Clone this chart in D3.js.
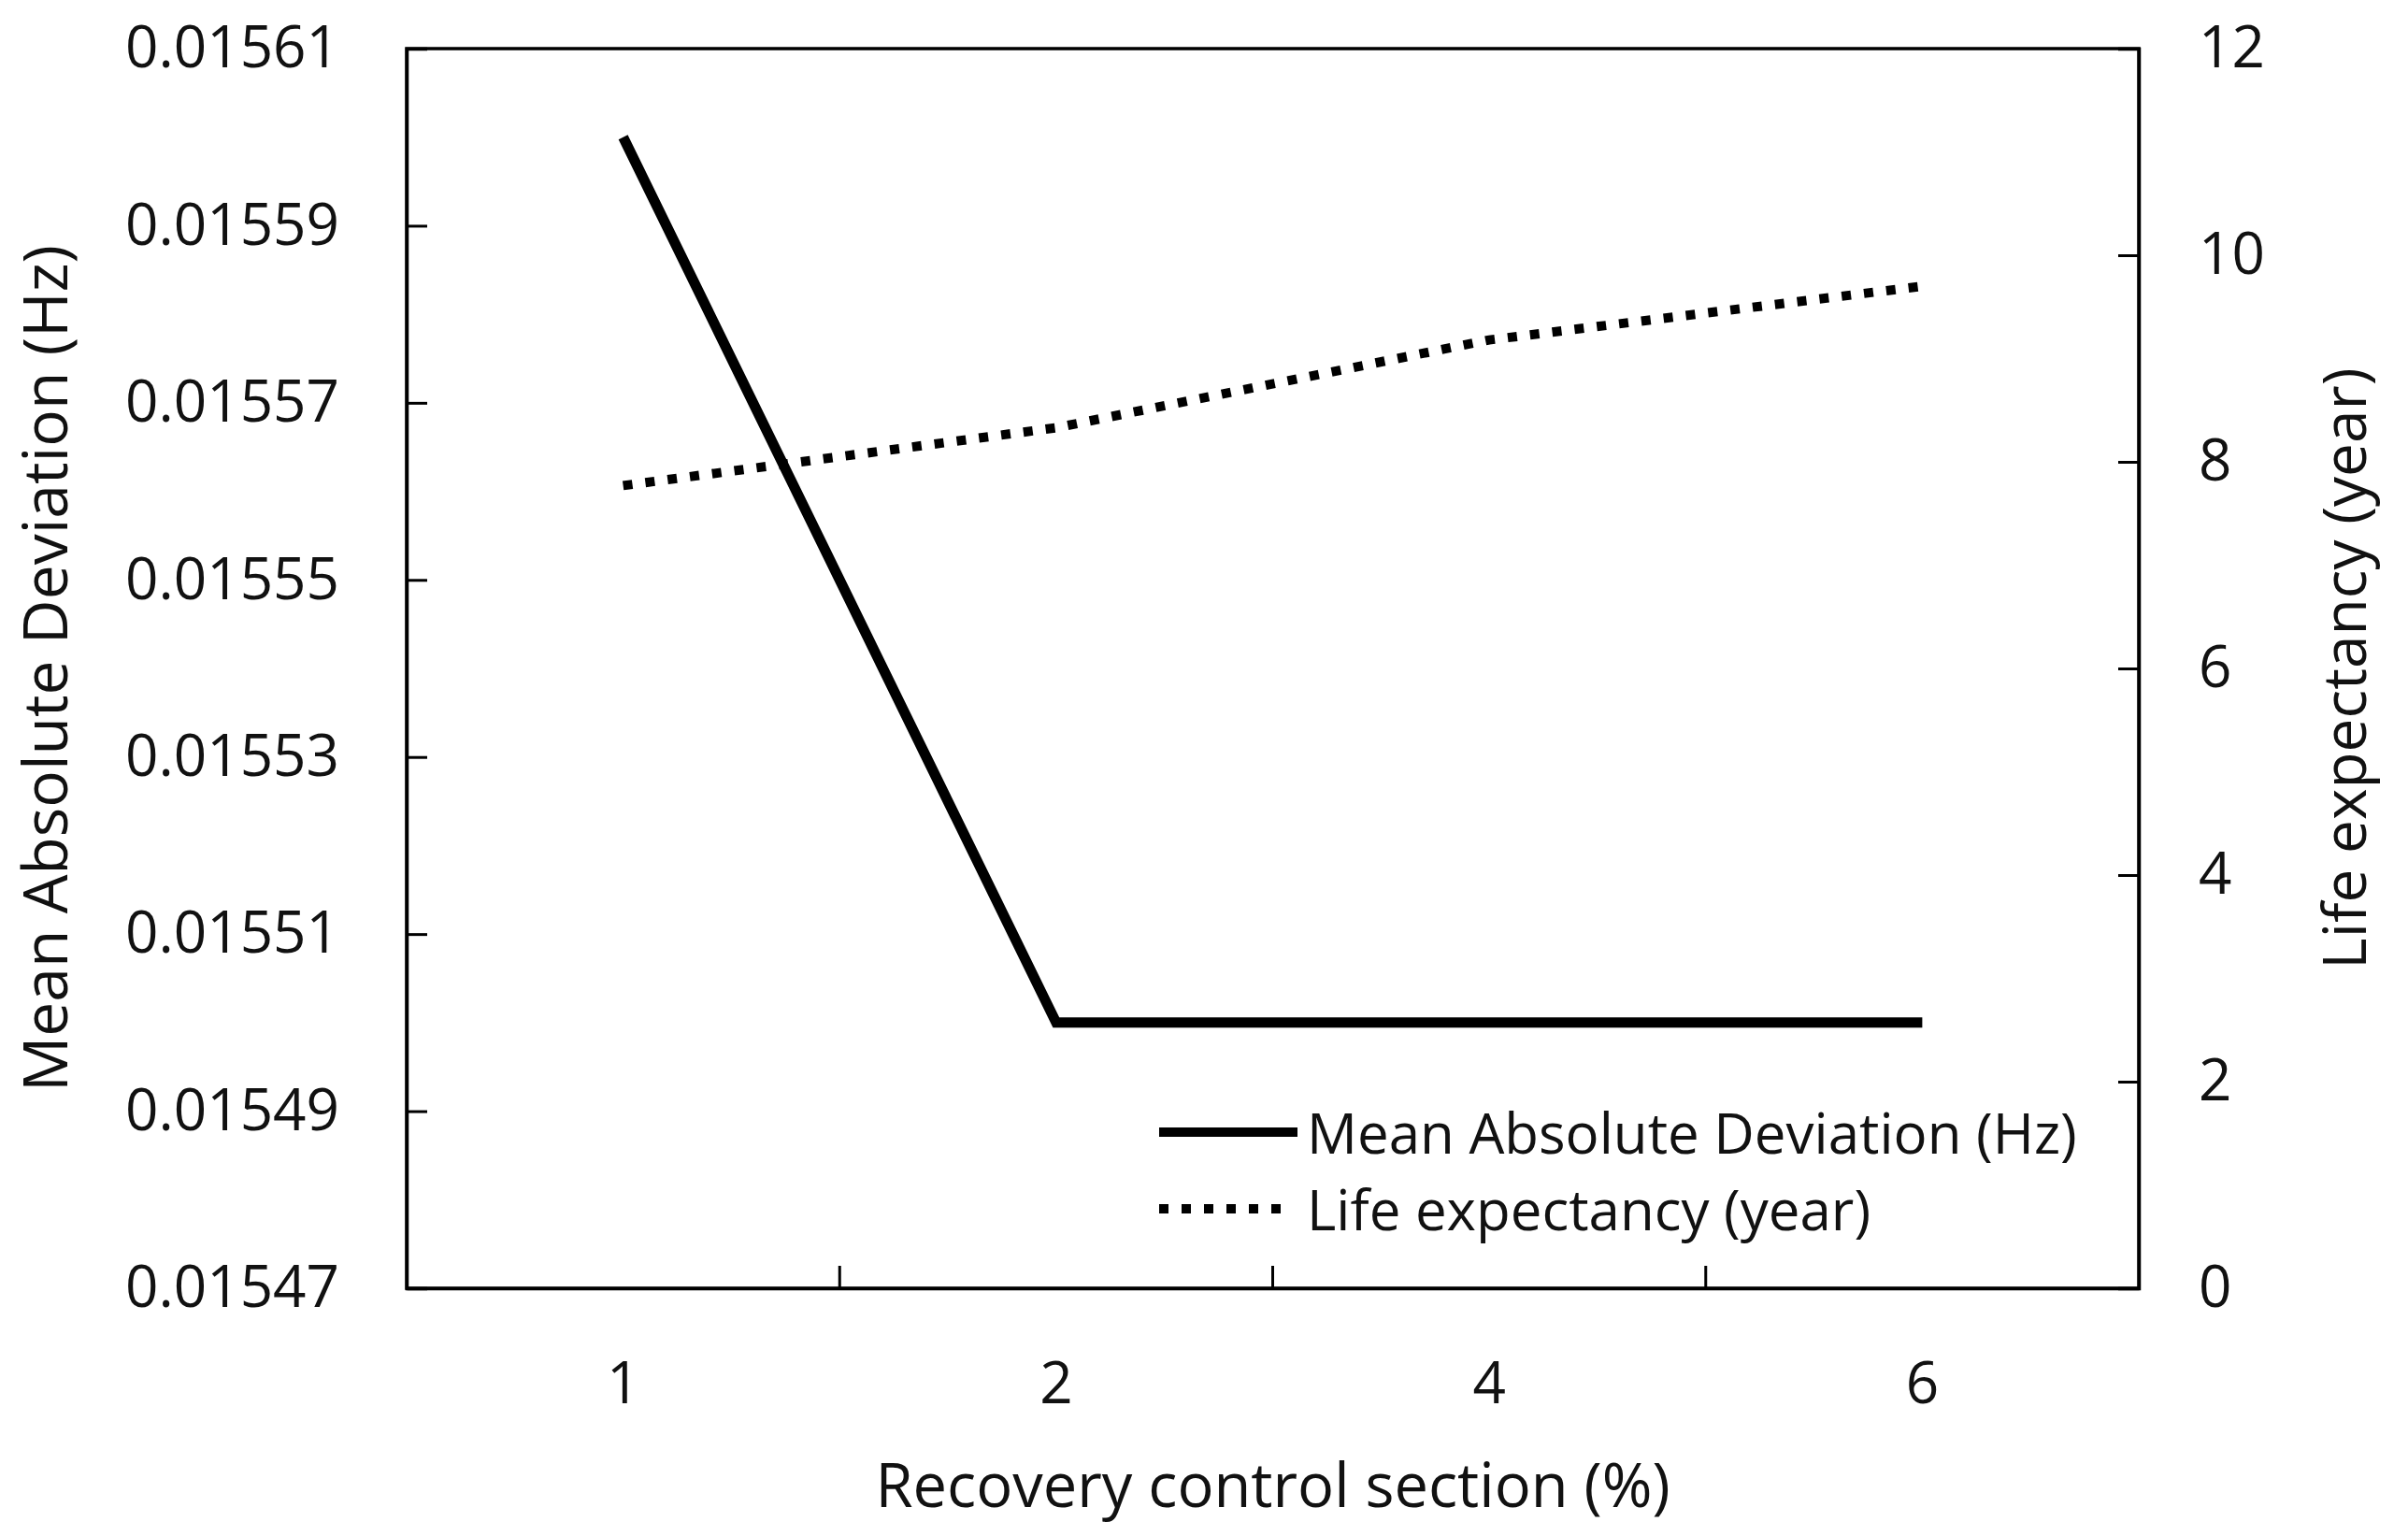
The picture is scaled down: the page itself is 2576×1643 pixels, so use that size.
<!DOCTYPE html>
<html>
<head>
<meta charset="utf-8">
<script src="https://cdn.jsdelivr.net/npm/d3@7"></script>
<style>
  html, body { margin: 0; padding: 0; background: #fff; }
  svg { display: block; font-family: "Open Sans", "Noto Sans", sans-serif; }
</style>
</head>
<body>
<svg id="chart" width="2576" height="1643"></svg>
<script>
// ---- data ----
const categories = ["1", "2", "4", "6"];
const madValues = [0.01560, 0.01550, 0.01550, 0.01550];
const lifeValues = [7.77, 8.33, 9.18, 9.70];
const leftTicks = [0.01547, 0.01549, 0.01551, 0.01553, 0.01555, 0.01557, 0.01559, 0.01561];
const rightTicks = [0, 2, 4, 6, 8, 10, 12];
const xTitle = "Recovery control section (%)";
const leftTitle = "Mean Absolute Deviation (Hz)";
const rightTitle = "Life expectancy (year)";
const legendLabels = ["Mean Absolute Deviation (Hz)", "Life expectancy (year)"];

// ---- layout ----
const L = 435, R = 2288, T = 52, B = 1378;
const svg = d3.select("#chart");

const x = d3.scaleBand().domain(categories).range([L, R]).padding(0);
const yL = d3.scaleLinear().domain([0.01547, 0.01561]).range([B, T]);
const yR = d3.scaleLinear().domain([0, 12]).range([B, T]);

const tickFont = 62;

// frame
svg.append("rect")
  .attr("x", L).attr("y", T).attr("width", R - L).attr("height", B - T)
  .attr("fill", "none").attr("stroke", "#000").attr("stroke-width", 3.5);

// left axis
const gL = svg.append("g").attr("transform", `translate(${L},0)`)
  .call(d3.axisLeft(yL).tickValues(leftTicks).tickFormat(d3.format(".5f"))
        .tickSize(-22).tickPadding(72));
// right axis
const gR = svg.append("g").attr("transform", `translate(${R},0)`)
  .call(d3.axisRight(yR).tickValues(rightTicks).tickFormat(d3.format("d"))
        .tickSize(-22).tickPadding(64));
// bottom axis (labels at band centres)
const gB = svg.append("g").attr("transform", `translate(0,${B})`)
  .call(d3.axisBottom(x).tickSize(0).tickPadding(79));

[gL, gR, gB].forEach(g => {
  g.select(".domain").attr("stroke", "#000").attr("stroke-width", 3.5);
  g.selectAll(".tick line").attr("stroke", "#000").attr("stroke-width", 3);
  g.selectAll(".tick text").attr("fill", "#111")
    .style("font-size", tickFont + "px")
    .style("font-family", '"Open Sans", sans-serif');
});

// bottom boundary ticks between categories (pointing inward)
const boundaries = categories.slice(1).map(c => x(c));
svg.append("g").selectAll("line").data(boundaries).join("line")
  .attr("x1", d => d).attr("x2", d => d)
  .attr("y1", B).attr("y2", B - 24)
  .attr("stroke", "#000").attr("stroke-width", 3);

// lines
const cx = c => x(c) + x.bandwidth() / 2;
const lifeLine = d3.line().x((d, i) => cx(categories[i])).y(d => yR(d));
const madLine = d3.line().x((d, i) => cx(categories[i])).y(d => yL(d));

svg.append("path").datum(lifeValues)
  .attr("d", lifeLine).attr("fill", "none")
  .attr("stroke", "#000").attr("stroke-width", 10)
  .attr("stroke-dasharray", "10 14");

svg.append("path").datum(madValues)
  .attr("d", madLine).attr("fill", "none")
  .attr("stroke", "#000").attr("stroke-width", 11)
  .attr("stroke-linejoin", "miter");

// titles
svg.append("text")
  .attr("x", (L + R) / 2).attr("y", 1612)
  .attr("text-anchor", "middle")
  .style("font-size", "65px").attr("fill", "#111")
  .text(xTitle);

svg.append("text")
  .attr("transform", `translate(72,${(T + B) / 2}) rotate(-90)`)
  .attr("text-anchor", "middle")
  .style("font-size", "66px").attr("fill", "#111")
  .text(leftTitle);

svg.append("text")
  .attr("transform", `translate(2531,${(T + B) / 2}) rotate(-90)`)
  .attr("text-anchor", "middle")
  .style("font-size", "64px").attr("fill", "#111")
  .text(rightTitle);

// legend
const legend = svg.append("g");
const legendRows = [
  { label: legendLabels[0], y: 1211, dash: null, w: 10, x2: 1388 },
  { label: legendLabels[1], y: 1293, dash: "10 14", w: 10, x2: 1374 }
];
legendRows.forEach(r => {
  legend.append("line")
    .attr("x1", 1240).attr("x2", r.x2).attr("y1", r.y).attr("y2", r.y)
    .attr("stroke", "#000").attr("stroke-width", r.w)
    .attr("stroke-dasharray", r.dash);
  legend.append("text")
    .attr("x", 1398).attr("y", r.y + 23)
    .style("font-size", "60px").attr("fill", "#111")
    .text(r.label);
});
</script>
</body>
</html>
